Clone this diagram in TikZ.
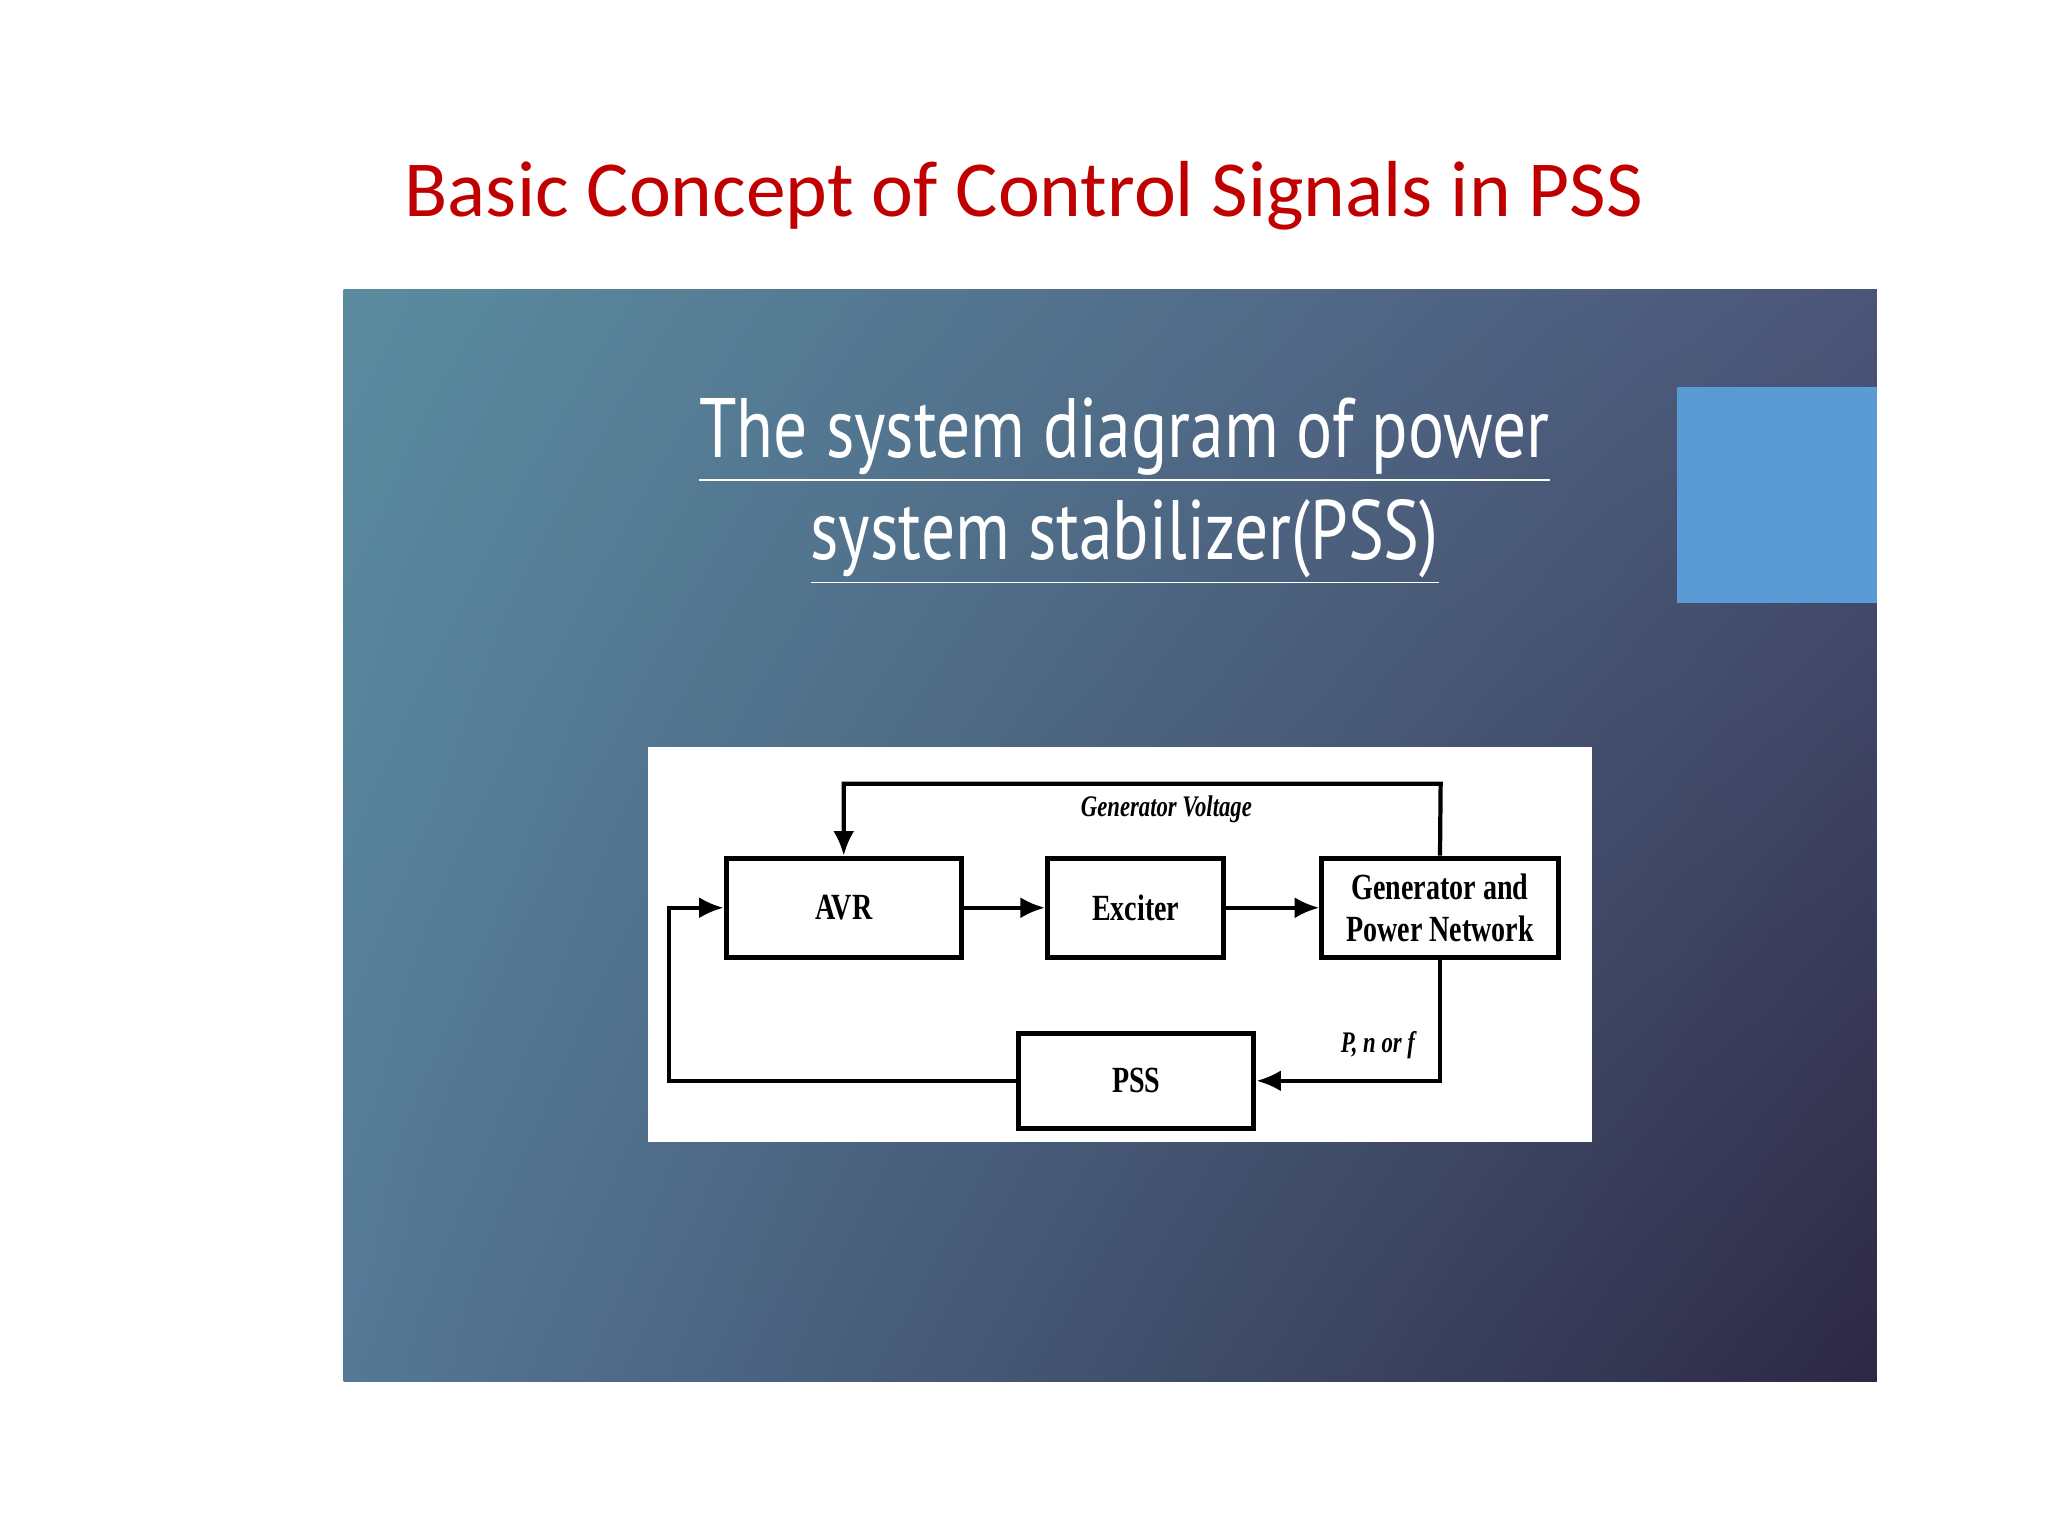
\documentclass[tikz,border=0pt]{standalone}
\usepackage{fontspec}
\setmainfont{Liberation Serif}
\newfontfamily\myCal{Carlito}
\newfontfamily\myNar{PT Sans}
\usetikzlibrary{arrows.meta,shadings}
\definecolor{cUL}{RGB}{90,140,160}
\definecolor{cUR}{RGB}{75,85,120}
\definecolor{cLL}{RGB}{85,120,150}
\definecolor{cLR}{RGB}{45,40,68}
\definecolor{cBlue}{RGB}{91,155,213}
\definecolor{cRed}{RGB}{192,0,0}
\newcommand{\nrw}[1]{\scalebox{0.76}[1]{#1}}
\begin{document}
\begin{tikzpicture}[x=0.01306cm,y=-0.01306cm,
  blk/.style={draw=black,line width=1.4pt,fill=white,inner sep=0pt,font=\bfseries\fontsize{10.5}{12}\selectfont,align=center},
  con/.style={line width=1.2pt,-{Latex[length=7pt,width=6pt]}},
  lab/.style={font=\itshape\bfseries\fontsize{8.5}{10}\selectfont}]
\useasboundingbox (0,0) rectangle (1568,1176);
\fill[white] (0,0) rectangle (1568,1176);
\node[font=\myCal\fontsize{22.6}{27}\selectfont,text=cRed] (t) at (784,150) {Basic Concept of Control Signals in PSS};
\shade[upper left=cUL,upper right=cUR,lower left=cLL,lower right=cLR] (263,222) rectangle (1437,1058);
\fill[cBlue] (1284,296) rectangle (1437,462);
\node[font=\myNar\fontsize{24}{28}\selectfont,text=white,xscale=0.8,align=center] (st) at (861,376)
  {\underline{The system diagram of power}\\[1pt]\underline{system stabilizer(PSS)}};
\fill[white] (496,572) rectangle (1219,874);
\node[blk,minimum width=180*0.01306cm,minimum height=76*0.01306cm] (avr) at (646,695) {\nrw{AVR}};
\node[blk,minimum width=135*0.01306cm,minimum height=76*0.01306cm] (exc) at (869.5,695) {\nrw{Exciter}};
\node[blk,minimum width=181*0.01306cm,minimum height=76*0.01306cm] (gen) at (1102.5,695) {\nrw{Generator and}\\\nrw{Power Network}};
\node[blk,minimum width=180*0.01306cm,minimum height=73*0.01306cm] (pss) at (870,827.5) {\nrw{PSS}};
\draw[con] (avr) -- (exc);
\draw[con] (exc) -- (gen);
\draw[con] (gen.north) -- (1103,600) -| (avr.north);
\draw[con] (gen.south) |- (pss.east);
\draw[con] (pss.west) -- (512,827.5) |- (avr.west);
\node[lab] (gv) at (893,620) {\nrw{Generator Voltage}};
\node[lab] (pn) at (1055,800) {\nrw{P, n or f}};
\end{tikzpicture}
\end{document}
